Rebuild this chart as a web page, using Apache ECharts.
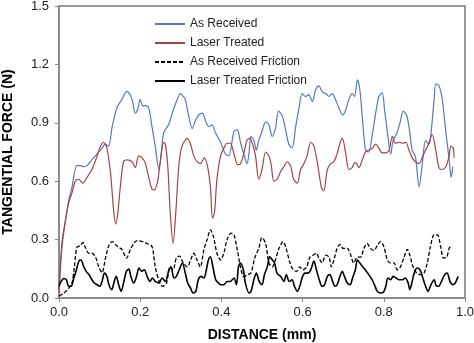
<!DOCTYPE html>
<html>
<head>
<meta charset="utf-8">
<script src="https://cdn.jsdelivr.net/npm/echarts@6/dist/echarts.min.js"></script>
<style>
  html, body { margin: 0; padding: 0; background: #fff; }
  #chart { width: 474px; height: 343px; }
</style>
</head>
<body>
<div id="chart"></div>
<script>
// Tangential force vs sliding distance (mm)
const yTicks = [0.0, 0.3, 0.6, 0.9, 1.2, 1.5];
const xTicks = [0.0, 0.2, 0.4, 0.6, 0.8, 1.0];

const asReceivedX = [0.000,0.007,0.016,0.024,0.032,0.044,0.053,0.061,0.069,0.081,0.094,0.106,0.114,0.122,0.131,0.143,0.155,0.166,0.172,0.180,0.188,0.194,0.200,0.207,0.213,0.221,0.229,0.237,0.246,0.258,0.270,0.279,0.291,0.299,0.306,0.311,0.320,0.328,0.336,0.344,0.353,0.361,0.369,0.377,0.385,0.398,0.410,0.418,0.431,0.439,0.447,0.455,0.463,0.468,0.473,0.480,0.486,0.492,0.500,0.509,0.517,0.525,0.533,0.541,0.550,0.558,0.566,0.574,0.583,0.591,0.599,0.607,0.615,0.624,0.632,0.640,0.648,0.657,0.665,0.673,0.681,0.689,0.698,0.706,0.714,0.722,0.728,0.735,0.741,0.747,0.755,0.763,0.772,0.780,0.788,0.796,0.802,0.809,0.817,0.823,0.832,0.840,0.848,0.856,0.862,0.870,0.878,0.887,0.895,0.903,0.911,0.915,0.924,0.928,0.936,0.944,0.953,0.961,0.966,0.970];
const asReceivedY = [0.03,0.25,0.40,0.50,0.57,0.68,0.68,0.675,0.68,0.71,0.74,0.77,0.79,0.78,0.88,0.98,1.02,1.06,1.055,1.02,0.95,0.97,1.02,0.985,0.99,0.975,0.88,0.78,0.66,0.85,0.89,0.95,1.02,1.05,1.035,1.02,0.93,0.87,0.91,0.94,0.95,0.91,0.88,0.89,0.85,0.80,0.74,0.73,0.855,0.865,0.80,0.74,0.69,0.745,0.83,0.81,0.76,0.81,0.855,0.905,0.89,0.83,0.87,0.96,0.935,0.865,0.79,0.77,0.88,0.975,1.05,1.035,1.045,1.01,1.07,1.09,1.06,1.05,1.035,1.05,1.02,0.98,0.94,0.965,1.02,1.05,1.035,1.12,1.07,0.93,0.76,0.75,0.845,0.95,1.035,1.055,0.965,0.85,0.74,0.81,0.845,0.90,0.96,0.94,0.88,0.76,0.725,0.57,0.69,0.81,0.79,0.82,1.02,1.10,1.09,1.02,0.85,0.71,0.62,0.675];

const laserX = [0.000,0.007,0.016,0.024,0.032,0.040,0.048,0.059,0.069,0.081,0.094,0.102,0.110,0.118,0.127,0.135,0.140,0.145,0.151,0.159,0.168,0.180,0.188,0.196,0.205,0.213,0.221,0.229,0.235,0.243,0.250,0.258,0.262,0.268,0.274,0.281,0.288,0.295,0.303,0.316,0.324,0.332,0.340,0.348,0.358,0.366,0.373,0.378,0.383,0.389,0.398,0.406,0.414,0.422,0.431,0.440,0.447,0.455,0.463,0.470,0.476,0.484,0.492,0.500,0.509,0.517,0.523,0.529,0.537,0.546,0.554,0.562,0.571,0.578,0.587,0.595,0.603,0.611,0.620,0.628,0.638,0.646,0.652,0.661,0.669,0.677,0.684,0.692,0.698,0.706,0.714,0.722,0.728,0.733,0.739,0.747,0.755,0.763,0.772,0.780,0.788,0.796,0.804,0.813,0.821,0.829,0.837,0.846,0.854,0.862,0.870,0.878,0.887,0.895,0.903,0.911,0.919,0.928,0.936,0.944,0.953,0.961,0.965,0.971,0.973];
const laserY = [0.03,0.28,0.40,0.49,0.54,0.60,0.61,0.59,0.62,0.66,0.73,0.78,0.80,0.77,0.64,0.44,0.38,0.44,0.57,0.70,0.71,0.70,0.67,0.73,0.72,0.69,0.62,0.56,0.555,0.60,0.71,0.80,0.79,0.675,0.44,0.28,0.45,0.675,0.78,0.82,0.79,0.73,0.70,0.69,0.72,0.675,0.57,0.41,0.44,0.61,0.73,0.77,0.795,0.795,0.74,0.685,0.69,0.74,0.81,0.82,0.795,0.73,0.61,0.66,0.75,0.73,0.68,0.60,0.61,0.65,0.675,0.70,0.675,0.61,0.59,0.66,0.69,0.73,0.80,0.78,0.675,0.57,0.55,0.66,0.69,0.70,0.735,0.795,0.82,0.745,0.66,0.67,0.695,0.69,0.67,0.71,0.75,0.76,0.77,0.79,0.77,0.745,0.745,0.76,0.83,0.795,0.80,0.795,0.80,0.76,0.72,0.70,0.69,0.725,0.76,0.795,0.84,0.76,0.67,0.66,0.675,0.73,0.78,0.77,0.72];

const arFrictionX = [0.000,0.012,0.024,0.032,0.038,0.044,0.053,0.059,0.065,0.073,0.081,0.090,0.098,0.106,0.114,0.122,0.131,0.139,0.147,0.155,0.166,0.176,0.184,0.192,0.205,0.217,0.229,0.237,0.248,0.256,0.265,0.273,0.281,0.289,0.297,0.306,0.316,0.324,0.332,0.340,0.348,0.357,0.365,0.373,0.381,0.389,0.398,0.406,0.414,0.424,0.431,0.439,0.447,0.455,0.465,0.473,0.482,0.492,0.500,0.509,0.517,0.525,0.533,0.541,0.552,0.560,0.569,0.577,0.585,0.593,0.601,0.610,0.618,0.626,0.634,0.640,0.648,0.657,0.665,0.671,0.677,0.685,0.692,0.700,0.710,0.717,0.726,0.735,0.743,0.751,0.759,0.767,0.776,0.784,0.792,0.800,0.809,0.817,0.825,0.833,0.841,0.850,0.858,0.864,0.872,0.881,0.891,0.899,0.907,0.915,0.924,0.932,0.940,0.947,0.955,0.961,0.966,0.969];
const arFrictionY = [0.01,0.025,0.05,0.077,0.16,0.26,0.27,0.285,0.26,0.23,0.23,0.21,0.16,0.13,0.20,0.265,0.29,0.275,0.26,0.25,0.205,0.25,0.28,0.295,0.29,0.28,0.265,0.16,0.077,0.06,0.077,0.16,0.145,0.205,0.215,0.18,0.16,0.195,0.23,0.195,0.16,0.25,0.30,0.35,0.31,0.23,0.195,0.23,0.30,0.333,0.325,0.25,0.16,0.11,0.12,0.13,0.205,0.255,0.31,0.28,0.18,0.16,0.195,0.25,0.29,0.25,0.18,0.145,0.137,0.16,0.145,0.16,0.21,0.22,0.23,0.205,0.18,0.22,0.21,0.16,0.195,0.255,0.275,0.255,0.255,0.23,0.18,0.21,0.21,0.255,0.28,0.255,0.245,0.27,0.29,0.265,0.195,0.18,0.18,0.145,0.16,0.21,0.25,0.22,0.16,0.128,0.12,0.128,0.18,0.265,0.325,0.325,0.265,0.205,0.21,0.255,0.265,0.265];

const ltFrictionX = [0.000,0.005,0.012,0.018,0.024,0.030,0.036,0.043,0.049,0.054,0.061,0.067,0.074,0.081,0.087,0.094,0.100,0.106,0.112,0.118,0.123,0.130,0.136,0.141,0.147,0.153,0.159,0.166,0.172,0.177,0.184,0.191,0.197,0.204,0.210,0.217,0.224,0.230,0.237,0.246,0.254,0.262,0.270,0.276,0.283,0.289,0.296,0.304,0.311,0.317,0.324,0.330,0.337,0.343,0.350,0.357,0.363,0.368,0.373,0.379,0.386,0.393,0.399,0.406,0.414,0.422,0.431,0.437,0.442,0.447,0.454,0.459,0.468,0.473,0.480,0.486,0.493,0.500,0.506,0.513,0.519,0.525,0.531,0.537,0.546,0.554,0.560,0.567,0.574,0.580,0.587,0.593,0.600,0.606,0.613,0.620,0.628,0.634,0.641,0.648,0.654,0.661,0.667,0.674,0.680,0.685,0.692,0.698,0.703,0.710,0.717,0.723,0.730,0.735,0.741,0.748,0.754,0.763,0.771,0.777,0.784,0.792,0.799,0.805,0.810,0.817,0.823,0.830,0.838,0.846,0.853,0.860,0.864,0.869,0.875,0.882,0.889,0.895,0.903,0.909,0.916,0.924,0.930,0.935,0.942,0.950,0.956,0.963,0.970,0.976,0.983];
const ltFrictionY = [0.06,0.085,0.10,0.094,0.06,0.06,0.10,0.145,0.19,0.195,0.16,0.137,0.12,0.094,0.077,0.068,0.06,0.085,0.128,0.111,0.068,0.043,0.085,0.111,0.068,0.034,0.077,0.137,0.149,0.111,0.077,0.111,0.154,0.137,0.145,0.111,0.085,0.103,0.085,0.077,0.103,0.085,0.137,0.16,0.103,0.111,0.145,0.18,0.128,0.077,0.051,0.026,0.034,0.094,0.111,0.103,0.145,0.195,0.212,0.16,0.094,0.077,0.068,0.068,0.085,0.085,0.103,0.068,0.16,0.18,0.145,0.077,0.026,0.034,0.094,0.128,0.085,0.068,0.12,0.16,0.212,0.197,0.18,0.128,0.111,0.085,0.12,0.085,0.094,0.06,0.034,0.06,0.111,0.128,0.128,0.145,0.19,0.145,0.094,0.06,0.068,0.111,0.12,0.085,0.06,0.068,0.111,0.137,0.111,0.077,0.068,0.103,0.145,0.195,0.18,0.16,0.145,0.12,0.094,0.068,0.034,0.026,0.029,0.06,0.103,0.094,0.111,0.103,0.094,0.094,0.103,0.077,0.043,0.077,0.128,0.154,0.145,0.111,0.06,0.034,0.068,0.094,0.06,0.06,0.085,0.12,0.128,0.085,0.068,0.077,0.111];

const seriesNames = ['As Received', 'Laser Treated', 'As Received Friction', 'Laser Treated Friction'];

function pairs(xs, ys) {
  return xs.map((x, i) => [x, ys[i]]);
}

const chart = echarts.init(document.getElementById('chart'), null, { renderer: 'canvas' });

const labelFont = { fontFamily: 'Liberation Sans, Arial, sans-serif', fontSize: 13, color: '#222' };
const titleFont = { fontFamily: 'Liberation Sans, Arial, sans-serif', fontSize: 14, fontWeight: 'bold', color: '#000' };

chart.setOption({
  animation: false,
  backgroundColor: '#fff',
  grid: {
    left: 59, right: 9, top: 6, bottom: 45,
    outerBoundsMode: 'none', containLabel: false,
    show: true, borderColor: '#777', borderWidth: 1.5, backgroundColor: 'transparent'
  },
  legend: {
    orient: 'vertical',
    left: 149, top: 13,
    itemWidth: 30, itemHeight: 14, itemGap: 7,
    itemStyle: { opacity: 0 },
    textStyle: { fontFamily: 'Liberation Sans, Arial, sans-serif', fontSize: 12, color: '#222' },
    data: seriesNames
  },
  xAxis: {
    type: 'value', min: 0, max: 1, interval: 0.2,
    name: 'DISTANCE (mm)', nameLocation: 'middle', nameGap: 30,
    nameTextStyle: titleFont,
    axisLine: { show: true, lineStyle: { color: '#888', width: 1.5 } },
    axisTick: { show: true, length: 4, lineStyle: { color: '#888' } },
    axisLabel: Object.assign({ margin: 8, showMaxLabel: true, showMinLabel: true, formatter: v => xTicks.includes(+v.toFixed(1)) ? v.toFixed(1) : '' }, labelFont),
    splitLine: { show: false }
  },
  yAxis: {
    type: 'value', min: 0, max: 1.5, interval: 0.3,
    name: 'TANGENTIAL FORCE (N)', nameLocation: 'middle', nameGap: 44,
    nameTextStyle: titleFont,
    axisLine: { show: true, lineStyle: { color: '#888', width: 1.5 } },
    axisTick: { show: true, length: 4, lineStyle: { color: '#888' } },
    axisLabel: Object.assign({ margin: 10, showMaxLabel: true, showMinLabel: true, formatter: v => yTicks.includes(+v.toFixed(1)) ? v.toFixed(1) : '' }, labelFont),
    splitLine: { show: false }
  },
  series: [
    {
      name: seriesNames[0], type: 'line', showSymbol: false, symbol: 'none', smooth: 0.3,
      data: pairs(asReceivedX, asReceivedY),
      lineStyle: { color: '#5479c0', width: 1.2 }, itemStyle: { color: '#5479c0' }
    },
    {
      name: seriesNames[1], type: 'line', showSymbol: false, symbol: 'none', smooth: 0.3,
      data: pairs(laserX, laserY),
      lineStyle: { color: '#a34545', width: 1.2 }, itemStyle: { color: '#a34545' }
    },
    {
      name: seriesNames[2], type: 'line', showSymbol: false, symbol: 'none', smooth: 0.3,
      data: pairs(arFrictionX, arFrictionY),
      lineStyle: { color: '#000', width: 1.3, type: [4, 2] }, itemStyle: { color: '#000' }
    },
    {
      name: seriesNames[3], type: 'line', showSymbol: false, symbol: 'none', smooth: 0.3,
      data: pairs(ltFrictionX, ltFrictionY),
      lineStyle: { color: '#000', width: 1.6 }, itemStyle: { color: '#000' }
    }
  ]
});
</script>
</body>
</html>
